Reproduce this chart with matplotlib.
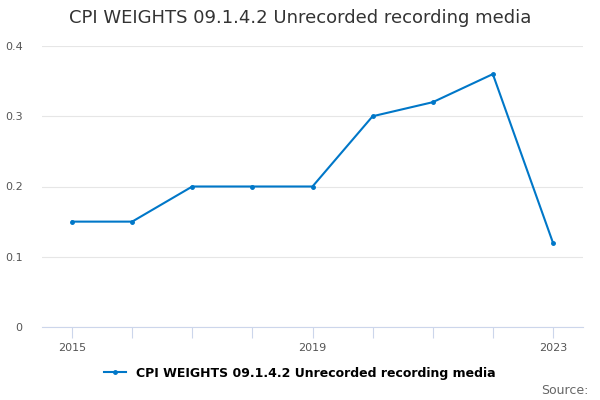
import matplotlib
matplotlib.use("Agg")
import matplotlib.pyplot as plt

years = [2015, 2016, 2017, 2018, 2019, 2020, 2021, 2022, 2023]
values = [0.15, 0.15, 0.2, 0.2, 0.2, 0.3, 0.32, 0.36, 0.12]
series_name = "CPI WEIGHTS 09.1.4.2 Unrecorded recording media"
title = "CPI WEIGHTS 09.1.4.2 Unrecorded recording media"

fig = plt.figure(figsize=(6, 4), dpi=100)
ax = fig.add_axes([42/600, 1-327/400, (583-42)/600, (327-46)/400])
color = "#0077c8"
ax.plot(years, values, color=color, lw=1.5, marker="o", ms=2.5, label=series_name)
ax.set_xlim(2014.5, 2023.5)
ax.set_ylim(0, 0.4)
ax.set_yticks([0, 0.1, 0.2, 0.3, 0.4])
ax.set_yticklabels(["0", "0.1", "0.2", "0.3", "0.4"])
ax.set_xticks(years)
ax.set_xticklabels([str(y) if y in (2015, 2019, 2023) else "" for y in years])
ax.grid(axis="y", color="#e6e6e6", lw=0.8)
ax.set_axisbelow(True)
for s in ["top", "right", "left"]:
    ax.spines[s].set_visible(False)
ax.spines["bottom"].set_color("#ccd6eb")
ax.tick_params(axis="y", length=0, labelsize=8, colors="#555555", pad=14)
ax.tick_params(axis="x", length=8, color="#ccd6eb", labelsize=8, labelcolor="#555555")
fig.text(0.5, 1-18/400, title, ha="center", va="center", fontsize=13, color="#333333")
ax.legend(loc="center", bbox_to_anchor=(0.5 - 42/600/((583-42)/600)*0 + (300-42)/541 - 0.5, -0.165),
          frameon=False, fontsize=9, prop={"weight": "bold", "size": 9}, handlelength=1.8)
fig.text(589/600, 1-390/400, "Source:", ha="right", va="center", fontsize=9, color="#666666")
fig.savefig("out.png")
